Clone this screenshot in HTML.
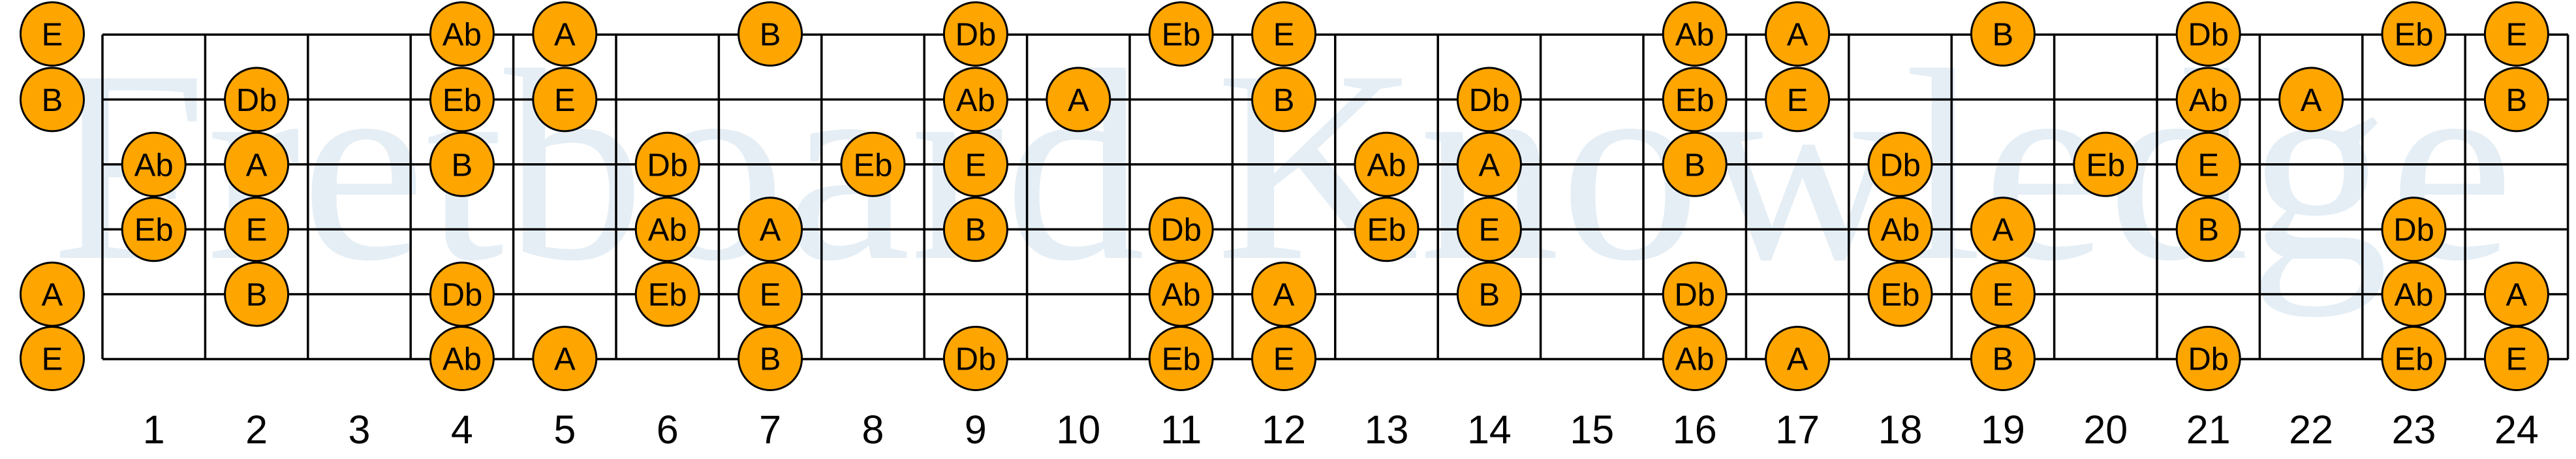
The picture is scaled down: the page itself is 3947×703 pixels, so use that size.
<!DOCTYPE html>
<html><head><meta charset="utf-8"><style>
html,body{margin:0;padding:0;background:#fff;}
svg{display:block;}
.n text{font-family:"Liberation Sans",sans-serif;font-size:49px;text-anchor:middle;fill:#000;}
.num{font-family:"Liberation Sans",sans-serif;font-size:61px;text-anchor:middle;fill:#000;}
</style></head><body>
<svg width="3947" height="703" viewBox="0 0 3947 703" xmlns="http://www.w3.org/2000/svg">
<defs><circle id="c" r="48.5" fill="#ffa500" stroke="#000" stroke-width="3"/></defs>
<text x="77" y="395" textLength="3775" lengthAdjust="spacingAndGlyphs" font-family="'Liberation Serif',serif" font-size="420" fill="#e5eef5">Fretboard Knowledge</text>
<g stroke="#000" stroke-width="3.5" fill="none">
<line x1="157" y1="53" x2="3935" y2="53"/>
<line x1="157" y1="152.4" x2="3935" y2="152.4"/>
<line x1="157" y1="251.8" x2="3935" y2="251.8"/>
<line x1="157" y1="351.2" x2="3935" y2="351.2"/>
<line x1="157" y1="450.6" x2="3935" y2="450.6"/>
<line x1="157" y1="550" x2="3935" y2="550"/>
<line x1="157" y1="53" x2="157" y2="550"/>
<line x1="314.4" y1="53" x2="314.4" y2="550"/>
<line x1="471.8" y1="53" x2="471.8" y2="550"/>
<line x1="629.2" y1="53" x2="629.2" y2="550"/>
<line x1="786.6" y1="53" x2="786.6" y2="550"/>
<line x1="944" y1="53" x2="944" y2="550"/>
<line x1="1101.4" y1="53" x2="1101.4" y2="550"/>
<line x1="1258.8" y1="53" x2="1258.8" y2="550"/>
<line x1="1416.2" y1="53" x2="1416.2" y2="550"/>
<line x1="1573.6" y1="53" x2="1573.6" y2="550"/>
<line x1="1731" y1="53" x2="1731" y2="550"/>
<line x1="1888.4" y1="53" x2="1888.4" y2="550"/>
<line x1="2045.8" y1="53" x2="2045.8" y2="550"/>
<line x1="2203.2" y1="53" x2="2203.2" y2="550"/>
<line x1="2360.6" y1="53" x2="2360.6" y2="550"/>
<line x1="2518" y1="53" x2="2518" y2="550"/>
<line x1="2675.4" y1="53" x2="2675.4" y2="550"/>
<line x1="2832.8" y1="53" x2="2832.8" y2="550"/>
<line x1="2990.2" y1="53" x2="2990.2" y2="550"/>
<line x1="3147.6" y1="53" x2="3147.6" y2="550"/>
<line x1="3305" y1="53" x2="3305" y2="550"/>
<line x1="3462.4" y1="53" x2="3462.4" y2="550"/>
<line x1="3619.8" y1="53" x2="3619.8" y2="550"/>
<line x1="3777.2" y1="53" x2="3777.2" y2="550"/>
<line x1="3934.6" y1="53" x2="3934.6" y2="550"/>
</g>
<g class="n">
<g transform="translate(80,52)"><use href="#c"/><text y="17.5">E</text></g>
<g transform="translate(707.9,52)"><use href="#c"/><text y="17.5">Ab</text></g>
<g transform="translate(865.3,52)"><use href="#c"/><text y="17.5">A</text></g>
<g transform="translate(1180.1,52)"><use href="#c"/><text y="17.5">B</text></g>
<g transform="translate(1494.9,52)"><use href="#c"/><text y="17.5">Db</text></g>
<g transform="translate(1809.7,52)"><use href="#c"/><text y="17.5">Eb</text></g>
<g transform="translate(1967.1,52)"><use href="#c"/><text y="17.5">E</text></g>
<g transform="translate(2596.7,52)"><use href="#c"/><text y="17.5">Ab</text></g>
<g transform="translate(2754.1,52)"><use href="#c"/><text y="17.5">A</text></g>
<g transform="translate(3068.9,52)"><use href="#c"/><text y="17.5">B</text></g>
<g transform="translate(3383.7,52)"><use href="#c"/><text y="17.5">Db</text></g>
<g transform="translate(3698.5,52)"><use href="#c"/><text y="17.5">Eb</text></g>
<g transform="translate(3855.9,52)"><use href="#c"/><text y="17.5">E</text></g>
<g transform="translate(80,152.4)"><use href="#c"/><text y="17.5">B</text></g>
<g transform="translate(393.1,152.4)"><use href="#c"/><text y="17.5">Db</text></g>
<g transform="translate(707.9,152.4)"><use href="#c"/><text y="17.5">Eb</text></g>
<g transform="translate(865.3,152.4)"><use href="#c"/><text y="17.5">E</text></g>
<g transform="translate(1494.9,152.4)"><use href="#c"/><text y="17.5">Ab</text></g>
<g transform="translate(1652.3,152.4)"><use href="#c"/><text y="17.5">A</text></g>
<g transform="translate(1967.1,152.4)"><use href="#c"/><text y="17.5">B</text></g>
<g transform="translate(2281.9,152.4)"><use href="#c"/><text y="17.5">Db</text></g>
<g transform="translate(2596.7,152.4)"><use href="#c"/><text y="17.5">Eb</text></g>
<g transform="translate(2754.1,152.4)"><use href="#c"/><text y="17.5">E</text></g>
<g transform="translate(3383.7,152.4)"><use href="#c"/><text y="17.5">Ab</text></g>
<g transform="translate(3541.1,152.4)"><use href="#c"/><text y="17.5">A</text></g>
<g transform="translate(3855.9,152.4)"><use href="#c"/><text y="17.5">B</text></g>
<g transform="translate(235.7,251.8)"><use href="#c"/><text y="17.5">Ab</text></g>
<g transform="translate(393.1,251.8)"><use href="#c"/><text y="17.5">A</text></g>
<g transform="translate(707.9,251.8)"><use href="#c"/><text y="17.5">B</text></g>
<g transform="translate(1022.7,251.8)"><use href="#c"/><text y="17.5">Db</text></g>
<g transform="translate(1337.5,251.8)"><use href="#c"/><text y="17.5">Eb</text></g>
<g transform="translate(1494.9,251.8)"><use href="#c"/><text y="17.5">E</text></g>
<g transform="translate(2124.5,251.8)"><use href="#c"/><text y="17.5">Ab</text></g>
<g transform="translate(2281.9,251.8)"><use href="#c"/><text y="17.5">A</text></g>
<g transform="translate(2596.7,251.8)"><use href="#c"/><text y="17.5">B</text></g>
<g transform="translate(2911.5,251.8)"><use href="#c"/><text y="17.5">Db</text></g>
<g transform="translate(3226.3,251.8)"><use href="#c"/><text y="17.5">Eb</text></g>
<g transform="translate(3383.7,251.8)"><use href="#c"/><text y="17.5">E</text></g>
<g transform="translate(235.7,351.2)"><use href="#c"/><text y="17.5">Eb</text></g>
<g transform="translate(393.1,351.2)"><use href="#c"/><text y="17.5">E</text></g>
<g transform="translate(1022.7,351.2)"><use href="#c"/><text y="17.5">Ab</text></g>
<g transform="translate(1180.1,351.2)"><use href="#c"/><text y="17.5">A</text></g>
<g transform="translate(1494.9,351.2)"><use href="#c"/><text y="17.5">B</text></g>
<g transform="translate(1809.7,351.2)"><use href="#c"/><text y="17.5">Db</text></g>
<g transform="translate(2124.5,351.2)"><use href="#c"/><text y="17.5">Eb</text></g>
<g transform="translate(2281.9,351.2)"><use href="#c"/><text y="17.5">E</text></g>
<g transform="translate(2911.5,351.2)"><use href="#c"/><text y="17.5">Ab</text></g>
<g transform="translate(3068.9,351.2)"><use href="#c"/><text y="17.5">A</text></g>
<g transform="translate(3383.7,351.2)"><use href="#c"/><text y="17.5">B</text></g>
<g transform="translate(3698.5,351.2)"><use href="#c"/><text y="17.5">Db</text></g>
<g transform="translate(80,450.6)"><use href="#c"/><text y="17.5">A</text></g>
<g transform="translate(393.1,450.6)"><use href="#c"/><text y="17.5">B</text></g>
<g transform="translate(707.9,450.6)"><use href="#c"/><text y="17.5">Db</text></g>
<g transform="translate(1022.7,450.6)"><use href="#c"/><text y="17.5">Eb</text></g>
<g transform="translate(1180.1,450.6)"><use href="#c"/><text y="17.5">E</text></g>
<g transform="translate(1809.7,450.6)"><use href="#c"/><text y="17.5">Ab</text></g>
<g transform="translate(1967.1,450.6)"><use href="#c"/><text y="17.5">A</text></g>
<g transform="translate(2281.9,450.6)"><use href="#c"/><text y="17.5">B</text></g>
<g transform="translate(2596.7,450.6)"><use href="#c"/><text y="17.5">Db</text></g>
<g transform="translate(2911.5,450.6)"><use href="#c"/><text y="17.5">Eb</text></g>
<g transform="translate(3068.9,450.6)"><use href="#c"/><text y="17.5">E</text></g>
<g transform="translate(3698.5,450.6)"><use href="#c"/><text y="17.5">Ab</text></g>
<g transform="translate(3855.9,450.6)"><use href="#c"/><text y="17.5">A</text></g>
<g transform="translate(80,549)"><use href="#c"/><text y="17.5">E</text></g>
<g transform="translate(707.9,549)"><use href="#c"/><text y="17.5">Ab</text></g>
<g transform="translate(865.3,549)"><use href="#c"/><text y="17.5">A</text></g>
<g transform="translate(1180.1,549)"><use href="#c"/><text y="17.5">B</text></g>
<g transform="translate(1494.9,549)"><use href="#c"/><text y="17.5">Db</text></g>
<g transform="translate(1809.7,549)"><use href="#c"/><text y="17.5">Eb</text></g>
<g transform="translate(1967.1,549)"><use href="#c"/><text y="17.5">E</text></g>
<g transform="translate(2596.7,549)"><use href="#c"/><text y="17.5">Ab</text></g>
<g transform="translate(2754.1,549)"><use href="#c"/><text y="17.5">A</text></g>
<g transform="translate(3068.9,549)"><use href="#c"/><text y="17.5">B</text></g>
<g transform="translate(3383.7,549)"><use href="#c"/><text y="17.5">Db</text></g>
<g transform="translate(3698.5,549)"><use href="#c"/><text y="17.5">Eb</text></g>
<g transform="translate(3855.9,549)"><use href="#c"/><text y="17.5">E</text></g>
</g>
<g class="num">
<text x="235.7" y="679">1</text>
<text x="393.1" y="679">2</text>
<text x="550.5" y="679">3</text>
<text x="707.9" y="679">4</text>
<text x="865.3" y="679">5</text>
<text x="1022.7" y="679">6</text>
<text x="1180.1" y="679">7</text>
<text x="1337.5" y="679">8</text>
<text x="1494.9" y="679">9</text>
<text x="1652.3" y="679">10</text>
<text x="1809.7" y="679">11</text>
<text x="1967.1" y="679">12</text>
<text x="2124.5" y="679">13</text>
<text x="2281.9" y="679">14</text>
<text x="2439.3" y="679">15</text>
<text x="2596.7" y="679">16</text>
<text x="2754.1" y="679">17</text>
<text x="2911.5" y="679">18</text>
<text x="3068.9" y="679">19</text>
<text x="3226.3" y="679">20</text>
<text x="3383.7" y="679">21</text>
<text x="3541.1" y="679">22</text>
<text x="3698.5" y="679">23</text>
<text x="3855.9" y="679">24</text>
</g>
</svg>
</body></html>
